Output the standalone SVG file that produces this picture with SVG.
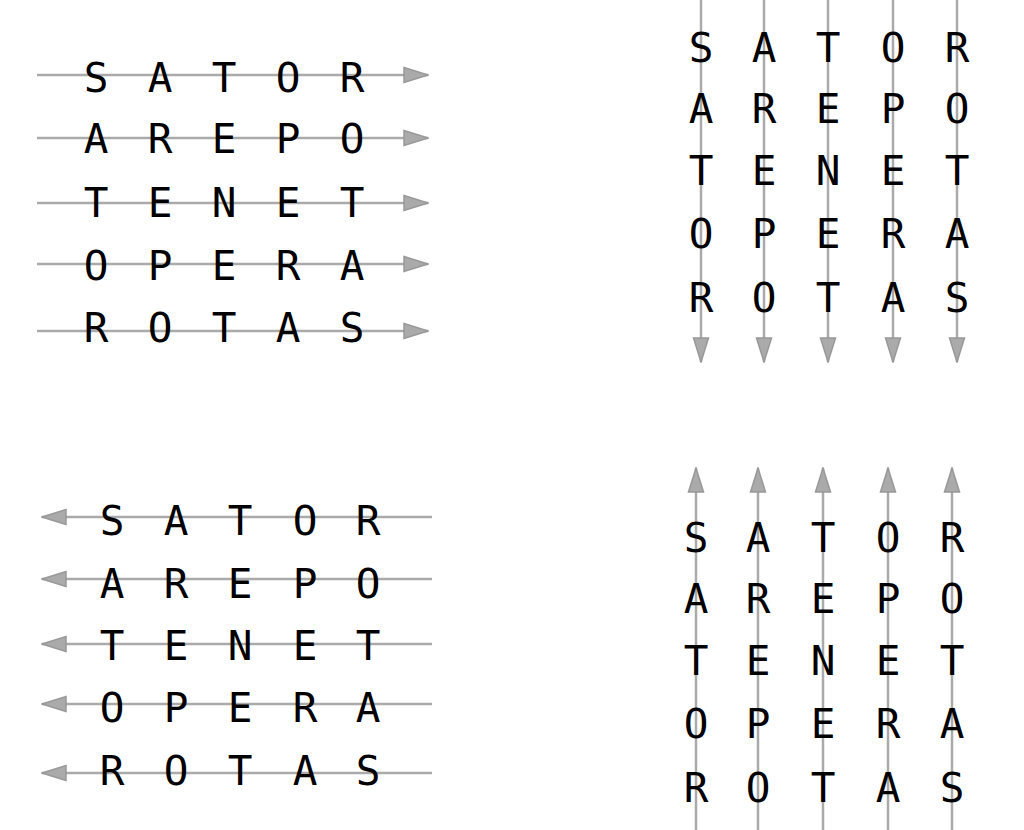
<svg xmlns="http://www.w3.org/2000/svg" width="1024" height="830" viewBox="0 0 1024 830">
<style>
.l{font-family:"DejaVu Sans Mono","Liberation Mono",monospace;font-size:41px;fill:#000;text-anchor:middle}
.c{stroke:#aaaaaa;stroke-width:2.5;fill:none;marker-end:url(#ah)}
</style>
<defs>
<marker id="ah" viewBox="0 0 26 18" refX="25" refY="9" markerWidth="26" markerHeight="18" markerUnits="userSpaceOnUse" orient="auto">
<path d="M1,1.5 L25,9 L1,16.5 Z" fill="#aaaaaa" stroke="#999999" stroke-width="1.5"/>
</marker>
</defs>
<rect width="1024" height="830" fill="#fff"/>
<g id="connectors">
<line class="c" x1="37" y1="75" x2="428" y2="75"/>
<line class="c" x1="37" y1="138" x2="428" y2="138"/>
<line class="c" x1="37" y1="203" x2="428" y2="203"/>
<line class="c" x1="37" y1="264" x2="428" y2="264"/>
<line class="c" x1="37" y1="331" x2="428" y2="331"/>
<line class="c" x1="701" y1="0" x2="701" y2="362"/>
<line class="c" x1="764" y1="0" x2="764" y2="362"/>
<line class="c" x1="828" y1="0" x2="828" y2="362"/>
<line class="c" x1="893" y1="0" x2="893" y2="362"/>
<line class="c" x1="957" y1="0" x2="957" y2="362"/>
<line class="c" x1="432" y1="517" x2="42" y2="517"/>
<line class="c" x1="432" y1="579" x2="42" y2="579"/>
<line class="c" x1="432" y1="644" x2="42" y2="644"/>
<line class="c" x1="432" y1="704" x2="42" y2="704"/>
<line class="c" x1="432" y1="773" x2="42" y2="773"/>
<line class="c" x1="696" y1="830" x2="696" y2="468"/>
<line class="c" x1="758" y1="830" x2="758" y2="468"/>
<line class="c" x1="823" y1="830" x2="823" y2="468"/>
<line class="c" x1="888" y1="830" x2="888" y2="468"/>
<line class="c" x1="952" y1="830" x2="952" y2="468"/>
</g>
<g id="square-rows-right">
<text class="l" x="96 160 224 288 352" y="92">SATOR</text>
<text class="l" x="96 160 224 288 352" y="153">AREPO</text>
<text class="l" x="96 160 224 288 352" y="217">TENET</text>
<text class="l" x="96 160 224 288 352" y="280">OPERA</text>
<text class="l" x="96 160 224 288 352" y="342">ROTAS</text>
</g>
<g id="square-cols-down">
<text class="l" x="701 764 828 893 957" y="62">SATOR</text>
<text class="l" x="701 764 828 893 957" y="123">AREPO</text>
<text class="l" x="701 764 828 893 957" y="185">TENET</text>
<text class="l" x="701 764 828 893 957" y="248">OPERA</text>
<text class="l" x="701 764 828 893 957" y="312">ROTAS</text>
</g>
<g id="square-rows-left">
<text class="l" x="112 176 240 305 368" y="535">SATOR</text>
<text class="l" x="112 176 240 305 368" y="598">AREPO</text>
<text class="l" x="112 176 240 305 368" y="660">TENET</text>
<text class="l" x="112 176 240 305 368" y="722">OPERA</text>
<text class="l" x="112 176 240 305 368" y="785">ROTAS</text>
</g>
<g id="square-cols-up">
<text class="l" x="696 758 823 888 952" y="552">SATOR</text>
<text class="l" x="696 758 823 888 952" y="613">AREPO</text>
<text class="l" x="696 758 823 888 952" y="675">TENET</text>
<text class="l" x="696 758 823 888 952" y="738">OPERA</text>
<text class="l" x="696 758 823 888 952" y="802">ROTAS</text>
</g>
</svg>
